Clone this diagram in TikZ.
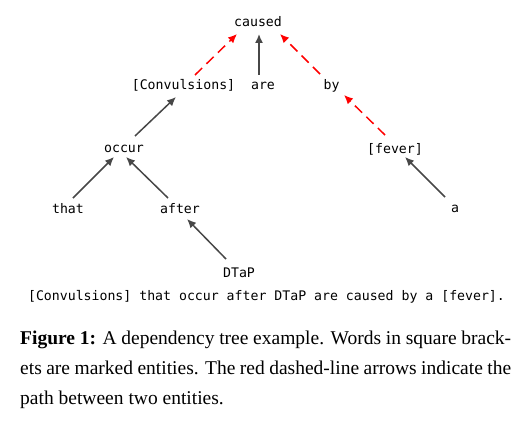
\documentclass[tikz,border=0pt]{standalone}
\usepackage{fontspec}
\setmainfont{Liberation Serif}
\newfontfamily\treefont{DejaVu Sans Mono}
\usetikzlibrary{arrows.meta,calc}
\begin{document}
\begin{tikzpicture}[x=1pt,y=-1pt,
  word/.style={font=\treefont\fontsize{13.2}{15}\selectfont, inner sep=0pt, anchor=base},
  dep/.style={draw=black!72, line width=1.5pt, -{Latex[length=9pt,width=8pt]}},
  redpath/.style={draw=red, line width=1.5pt, dash pattern=on 10pt off 6pt, -{Latex[length=9pt,width=8pt]}},
  capline/.style={font=\fontsize{19.5}{30}\selectfont, inner sep=0pt, anchor=base west}]
\useasboundingbox (0,0) rectangle (529,425);
\node[word] (caused) at (258,27) {caused};
\node[word] (conv) at (183.5,90) {[Convulsions]};
\node[word] (are) at (263,90) {are};
\node[word] (by) at (331.5,90) {by};
\node[word] (occur) at (124,152) {occur};
\node[word] (fever) at (395,153) {[fever]};
\node[word] (that) at (68,213) {that};
\node[word] (after) at (180,213) {after};
\node[word] (a) at (455,212) {a};
\node[word] (dtap) at (239,277) {DTaP};
\node[word] (sent) at (266.5,300) {[Convulsions] that occur after DTaP are caused by a [fever].};
% connectors
\draw[redpath] ($(conv.base)+(11.5,-15)$) -- ($(caused.base)+(-21,7)$);
\draw[dep] ($(are.base)+(-4,-15)$) -- ($(caused.base)+(1,7)$);
\draw[redpath] ($(by.base)+(-11.5,-16)$) -- ($(caused.base)+(22,7)$);
\draw[redpath] ($(fever.base)+(-10,-18)$) -- ($(by.base)+(12.5,5)$);
\draw[dep] ($(occur.base)+(11,-16)$) -- ($(conv.base)+(-7.5,7)$);
\draw[dep] ($(that.base)+(5,-15)$) -- ($(occur.base)+(-10,5)$);
\draw[dep] ($(after.base)+(-12,-15)$) -- ($(occur.base)+(2,5)$);
\draw[dep] ($(a.base)+(-10,-15)$) -- ($(fever.base)+(10,4)$);
\draw[dep] ($(dtap.base)+(-13,-18)$) -- ($(after.base)+(7,6)$);
% caption
\node[capline] (cap1) at (20,344) {\makebox[491pt][s]{\textbf{Figure 1:} A dependency tree example. Words in square brack-}};
\node[capline] (cap2) at (20,374) {\makebox[491pt][s]{ets are marked entities. The red dashed-line arrows indicate the}};
\node[capline] (cap3) at (20,404) {path between two entities.};
\end{tikzpicture}
\end{document}
